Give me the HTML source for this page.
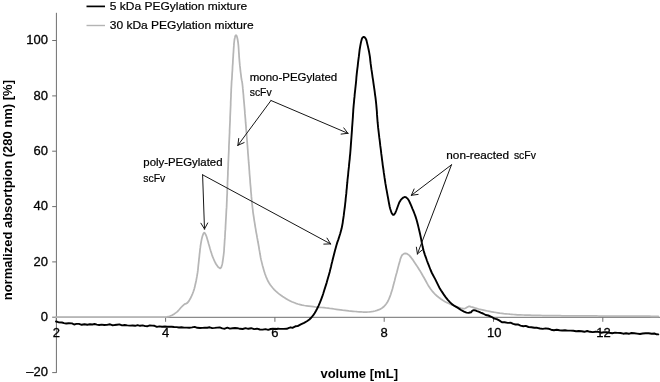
<!DOCTYPE html>
<html><head><meta charset="utf-8"><title>SEC chromatogram</title>
<style>html,body{margin:0;padding:0;background:#fff}svg{display:block}</style></head>
<body>
<svg width="660" height="382" viewBox="0 0 660 382">
<rect width="660" height="382" fill="#fff"/>
<g stroke="#6e6e6e" stroke-width="1" fill="none">
<line x1="56.4" y1="12.8" x2="56.4" y2="372.9"/>
<line x1="56" y1="317.3" x2="660" y2="317.3"/>
<line x1="52.2" y1="40.5" x2="56.4" y2="40.5"/>
<line x1="52.2" y1="95.9" x2="56.4" y2="95.9"/>
<line x1="52.2" y1="151.2" x2="56.4" y2="151.2"/>
<line x1="52.2" y1="206.6" x2="56.4" y2="206.6"/>
<line x1="52.2" y1="261.9" x2="56.4" y2="261.9"/>
<line x1="52.2" y1="317.2" x2="56.4" y2="317.2"/>
<line x1="52.2" y1="372.6" x2="56.4" y2="372.6"/>
<line x1="56.3" y1="317.3" x2="56.3" y2="321.8"/>
<line x1="165.6" y1="317.3" x2="165.6" y2="321.8"/>
<line x1="274.9" y1="317.3" x2="274.9" y2="321.8"/>
<line x1="384.2" y1="317.3" x2="384.2" y2="321.8"/>
<line x1="493.5" y1="317.3" x2="493.5" y2="321.8"/>
<line x1="602.8" y1="317.3" x2="602.8" y2="321.8"/>
</g>
<g font-family="'Liberation Sans', Arial, sans-serif" font-size="13" fill="#000" stroke="#000" stroke-width="0.3">
<text x="47.9" y="44.3" text-anchor="end">100</text>
<text x="47.9" y="99.7" text-anchor="end">80</text>
<text x="47.9" y="155.0" text-anchor="end">60</text>
<text x="47.9" y="210.4" text-anchor="end">40</text>
<text x="47.9" y="265.7" text-anchor="end">20</text>
<text x="47.9" y="321.1" text-anchor="end">0</text>
<text x="47.9" y="376.4" text-anchor="end">–20</text>
<text x="56.3" y="336.8" text-anchor="middle">2</text>
<text x="165.6" y="336.8" text-anchor="middle">4</text>
<text x="274.9" y="336.8" text-anchor="middle">6</text>
<text x="384.2" y="336.8" text-anchor="middle">8</text>
<text x="494.3" y="336.8" text-anchor="middle">10</text>
<text x="603.6" y="336.8" text-anchor="middle">12</text>
</g>
<path d="M56.0 317.0 L57.1 317.0 L58.4 317.0 L59.8 317.0 L61.4 317.0 L63.1 317.0 L64.9 317.0 L66.9 317.0 L68.9 317.0 L71.1 317.0 L73.3 317.0 L75.5 317.0 L77.8 317.0 L80.1 317.0 L82.4 317.0 L84.8 317.0 L87.1 317.0 L89.4 317.0 L91.6 317.0 L93.9 317.0 L96.0 317.0 L98.0 317.0 L100.0 317.0 L102.1 317.0 L104.3 317.0 L106.4 317.0 L108.6 317.0 L110.8 317.0 L112.9 317.0 L115.1 317.0 L117.2 317.0 L119.4 317.0 L121.5 317.0 L123.6 317.0 L125.6 317.0 L127.6 317.0 L129.6 317.0 L131.5 317.0 L133.3 317.0 L135.1 317.0 L136.8 317.0 L138.5 317.0 L140.0 317.0 L142.9 317.0 L145.5 317.0 L147.9 317.0 L150.1 317.0 L152.1 317.0 L153.9 317.0 L155.6 317.0 L157.2 317.0 L158.6 317.0 L160.0 317.0 L163.4 317.0 L165.3 317.0 L167.0 316.8 L169.6 316.3 L172.0 315.3 L173.8 314.2 L175.7 312.9 L177.4 311.6 L179.3 309.5 L181.0 307.5 L182.9 305.6 L184.6 304.1 L186.0 303.6 L187.4 302.9 L189.0 300.9 L190.6 298.0 L191.5 296.2 L192.4 294.1 L193.3 291.8 L194.2 289.1 L194.7 287.3 L195.1 285.3 L195.6 283.2 L196.1 281.0 L196.5 278.8 L196.9 276.7 L197.2 274.8 L197.6 272.4 L197.9 270.2 L198.1 268.1 L198.3 265.8 L198.6 263.2 L198.8 261.3 L199.0 259.1 L199.3 256.8 L199.5 254.4 L199.8 252.1 L200.0 249.8 L200.3 247.7 L200.5 245.9 L200.9 243.3 L201.3 241.1 L201.7 239.1 L202.1 237.4 L202.5 236.0 L203.4 233.6 L204.2 232.7 L205.0 233.3 L205.9 235.0 L206.6 236.8 L207.6 240.2 L208.1 241.8 L208.6 243.8 L209.3 246.0 L209.9 248.3 L210.6 250.6 L211.3 252.7 L211.9 254.6 L212.7 256.9 L213.6 259.0 L214.4 260.8 L215.2 262.5 L216.0 264.0 L218.1 267.0 L220.0 268.4 L221.2 267.6 L222.0 265.0 L222.4 263.4 L222.7 261.5 L223.0 259.3 L223.3 257.1 L223.6 255.0 L223.8 253.2 L224.0 251.5 L224.1 249.7 L224.2 247.6 L224.4 245.0 L224.5 243.4 L224.6 241.7 L224.7 239.8 L224.9 237.9 L225.0 235.8 L225.1 233.7 L225.2 231.5 L225.4 229.4 L225.5 227.2 L225.6 225.0 L225.7 223.1 L225.8 221.3 L225.9 219.5 L226.0 217.7 L226.1 215.8 L226.2 213.9 L226.3 211.9 L226.4 209.7 L226.6 207.4 L226.7 204.8 L226.8 202.0 L226.9 200.4 L226.9 198.7 L227.0 196.9 L227.1 195.1 L227.2 193.2 L227.2 191.2 L227.3 189.2 L227.4 187.1 L227.5 185.0 L227.5 182.9 L227.6 180.7 L227.7 178.6 L227.8 176.4 L227.9 174.2 L227.9 172.1 L228.0 170.0 L228.1 167.9 L228.2 165.8 L228.2 163.8 L228.3 161.9 L228.4 160.0 L228.5 157.7 L228.6 155.5 L228.7 153.3 L228.8 151.2 L228.9 149.0 L228.9 146.9 L229.0 144.8 L229.1 142.8 L229.2 140.7 L229.3 138.7 L229.4 136.6 L229.5 134.6 L229.6 132.5 L229.6 130.5 L229.7 128.4 L229.8 126.3 L229.9 124.2 L230.0 122.2 L230.1 120.1 L230.1 117.9 L230.2 115.7 L230.3 113.5 L230.4 111.2 L230.5 109.0 L230.6 106.8 L230.7 104.6 L230.7 102.4 L230.8 100.3 L230.9 98.2 L231.0 96.2 L231.0 94.4 L231.1 92.6 L231.2 90.9 L231.2 89.4 L231.3 88.0 L231.5 84.3 L231.6 82.0 L231.7 80.5 L231.9 79.1 L232.0 77.0 L232.1 75.0 L232.2 72.8 L232.4 70.5 L232.5 68.2 L232.6 65.8 L232.8 63.6 L232.9 61.4 L233.0 59.0 L233.2 56.5 L233.3 54.1 L233.5 51.8 L233.6 49.8 L233.7 48.0 L233.9 45.4 L234.0 43.5 L234.2 42.0 L234.4 40.0 L234.7 38.5 L235.0 37.2 L235.2 36.2 L235.6 35.5 L236.0 35.2 L236.4 35.5 L236.8 36.2 L237.1 37.2 L237.4 38.5 L237.7 40.0 L238.0 42.0 L238.2 43.5 L238.4 45.4 L238.6 48.0 L238.7 49.8 L238.8 51.8 L239.0 54.1 L239.1 56.5 L239.3 58.9 L239.5 61.4 L239.7 63.6 L239.9 65.9 L240.2 68.3 L240.4 70.7 L240.7 73.0 L241.0 75.1 L241.2 77.1 L241.5 79.0 L241.7 80.2 L242.0 81.4 L242.3 83.4 L242.7 87.0 L242.8 88.4 L243.0 90.0 L243.1 91.7 L243.3 93.5 L243.5 95.5 L243.6 97.5 L243.8 99.7 L244.0 101.9 L244.2 104.2 L244.4 106.5 L244.6 108.8 L244.8 111.1 L244.9 113.4 L245.1 115.7 L245.3 117.9 L245.5 120.1 L245.6 122.2 L245.8 124.2 L246.0 126.3 L246.1 128.4 L246.3 130.4 L246.4 132.4 L246.6 134.4 L246.7 136.3 L246.9 138.2 L247.0 140.1 L247.2 142.0 L247.3 144.0 L247.5 146.0 L247.6 148.0 L247.8 150.2 L247.9 152.3 L248.1 154.6 L248.3 157.0 L248.4 158.8 L248.6 160.7 L248.7 162.7 L248.9 164.7 L249.1 166.8 L249.2 169.0 L249.4 171.2 L249.5 173.4 L249.7 175.6 L249.9 177.9 L250.1 180.1 L250.2 182.3 L250.4 184.6 L250.6 186.7 L250.8 188.9 L250.9 191.0 L251.1 193.0 L251.3 195.0 L251.4 196.9 L251.6 198.7 L251.7 200.4 L251.9 202.0 L252.2 204.9 L252.5 207.6 L252.8 209.9 L253.0 212.1 L253.3 214.1 L253.6 216.0 L253.9 217.8 L254.1 219.5 L254.4 221.3 L254.7 223.1 L255.0 225.0 L255.3 227.1 L255.7 229.2 L256.0 231.3 L256.4 233.4 L256.8 235.4 L257.1 237.4 L257.5 239.4 L257.8 241.3 L258.2 243.2 L258.5 245.0 L258.9 247.2 L259.2 249.4 L259.6 251.4 L259.9 253.5 L260.3 255.5 L260.6 257.4 L261.0 259.4 L261.5 261.4 L262.0 263.4 L262.5 265.5 L263.1 267.6 L263.7 269.7 L264.3 271.7 L264.9 273.6 L265.6 275.5 L266.2 277.1 L267.2 279.4 L268.1 281.3 L269.1 283.0 L270.2 284.7 L271.4 286.3 L272.8 288.0 L274.2 289.6 L275.8 291.1 L277.5 292.6 L279.3 294.1 L280.9 295.3 L282.6 296.5 L284.3 297.6 L286.1 298.7 L287.9 299.8 L289.7 300.7 L291.8 301.7 L293.8 302.5 L295.8 303.3 L297.9 304.0 L300.2 304.6 L302.2 305.1 L304.4 305.5 L306.6 305.8 L308.8 306.1 L311.1 306.4 L313.3 306.7 L315.4 307.0 L317.5 307.2 L319.5 307.3 L321.7 307.5 L323.9 307.7 L326.4 308.0 L328.2 308.2 L330.1 308.5 L332.1 308.7 L334.1 309.0 L336.2 309.3 L338.3 309.6 L340.5 309.9 L342.5 310.2 L344.6 310.4 L346.7 310.6 L348.8 310.9 L350.9 311.1 L353.0 311.3 L355.1 311.5 L357.2 311.7 L359.2 311.8 L361.0 311.9 L362.8 312.0 L365.2 312.0 L367.4 312.0 L369.5 311.9 L371.4 311.7 L373.2 311.4 L375.0 311.0 L377.0 310.4 L379.0 309.7 L380.8 308.9 L382.4 307.8 L384.0 306.5 L385.2 305.2 L386.3 303.8 L387.3 302.2 L388.3 300.5 L389.2 298.4 L390.2 295.9 L390.8 294.3 L391.3 292.6 L391.9 290.7 L392.5 288.7 L393.0 286.7 L393.6 284.6 L394.1 282.5 L394.7 280.4 L395.2 278.3 L395.7 276.4 L396.2 274.6 L396.9 272.2 L397.5 269.8 L398.1 267.4 L398.7 265.1 L399.3 263.0 L399.9 261.0 L400.3 259.3 L400.8 257.9 L402.0 255.2 L403.0 254.4 L404.1 253.6 L405.3 253.3 L406.6 253.6 L408.0 254.4 L409.3 255.4 L411.4 257.9 L412.3 259.1 L413.3 260.6 L414.4 262.2 L415.6 264.0 L416.9 265.9 L418.1 267.8 L419.3 269.8 L420.5 271.6 L421.6 273.5 L422.7 275.5 L423.9 277.5 L425.0 279.5 L426.1 281.5 L427.1 283.4 L428.1 285.2 L429.1 286.7 L430.8 289.2 L432.2 291.1 L433.6 292.7 L435.2 294.3 L437.0 296.0 L438.9 297.5 L440.9 299.0 L442.8 300.3 L444.7 301.4 L446.6 302.4 L448.4 303.3 L450.3 304.1 L452.3 305.0 L454.2 305.8 L456.2 306.6 L457.9 307.2 L460.8 308.1 L463.0 308.6 L464.4 308.6 L465.5 308.2 L467.1 307.2 L468.6 306.4 L469.8 306.4 L471.0 306.8 L472.4 307.2 L474.6 307.9 L476.4 308.4 L478.6 309.0 L481.1 309.6 L483.7 310.2 L485.6 310.6 L487.5 311.0 L489.6 311.4 L491.7 311.8 L493.8 312.2 L495.9 312.5 L497.9 312.8 L499.8 313.1 L501.8 313.3 L503.7 313.6 L505.8 313.8 L508.0 314.0 L509.9 314.2 L511.6 314.3 L513.4 314.5 L515.3 314.6 L517.5 314.8 L520.1 314.9 L523.3 315.0 L524.9 315.1 L526.5 315.1 L528.2 315.2 L530.0 315.2 L531.8 315.3 L533.8 315.3 L535.8 315.3 L537.8 315.4 L540.0 315.4 L542.2 315.5 L544.4 315.5 L546.8 315.6 L549.2 315.6 L551.6 315.6 L554.1 315.7 L556.7 315.7 L558.4 315.7 L560.1 315.7 L561.9 315.8 L563.7 315.8 L565.6 315.8 L567.5 315.8 L569.5 315.8 L571.4 315.8 L573.4 315.8 L575.4 315.8 L577.5 315.9 L579.5 315.9 L581.6 315.9 L583.7 315.9 L585.8 315.9 L587.9 315.9 L590.0 315.9 L592.1 315.9 L594.2 315.9 L596.3 315.9 L598.4 316.0 L600.5 316.0 L602.6 316.0 L604.7 316.0 L606.7 316.0 L608.8 316.0 L610.9 316.0 L613.1 316.0 L615.4 316.1 L617.7 316.1 L620.1 316.1 L622.5 316.1 L624.9 316.1 L627.3 316.1 L629.7 316.1 L632.1 316.1 L634.5 316.2 L636.8 316.2 L639.1 316.2 L641.3 316.2 L643.5 316.2 L645.5 316.2 L647.6 316.2 L649.5 316.2 L651.3 316.3 L652.9 316.3 L654.5 316.3 L655.9 316.3 L657.2 316.3 L658.3 316.3" fill="none" stroke="#b6b6b6" stroke-width="1.75" stroke-linejoin="round" stroke-linecap="round"/>
<path d="M56.0 321.5 L58.4 322.2 L62.0 322.5 L64.0 323.1 L66.2 323.5 L68.8 323.2 L72.0 323.4 L74.1 324.5 L76.5 323.9 L79.0 323.9 L81.7 324.8 L84.5 324.2 L87.3 324.7 L90.0 324.3 L92.3 324.5 L94.6 324.0 L96.9 324.6 L99.2 325.0 L101.7 324.6 L104.2 325.0 L107.0 324.9 L110.0 324.3 L112.2 325.2 L114.5 325.0 L116.9 324.7 L119.4 324.4 L122.0 325.4 L124.7 325.0 L127.3 325.4 L130.0 325.6 L132.6 325.5 L135.2 325.8 L137.6 325.2 L140.0 325.8 L142.7 325.4 L145.2 326.1 L147.6 326.2 L149.9 325.4 L152.2 325.6 L154.5 325.8 L156.9 326.9 L159.4 326.4 L162.1 326.7 L165.0 326.5 L167.2 326.8 L169.4 326.7 L171.7 326.7 L174.1 327.0 L176.6 327.1 L179.0 327.5 L181.6 327.3 L184.1 327.6 L186.7 327.6 L189.3 327.8 L192.0 327.4 L194.7 326.9 L197.3 327.8 L200.0 328.0 L202.4 327.9 L204.8 327.6 L207.2 327.8 L209.7 327.3 L212.2 328.1 L214.7 327.9 L217.2 327.6 L219.7 327.4 L222.3 328.4 L224.8 328.7 L227.4 327.7 L229.9 328.6 L232.5 328.2 L235.0 328.0 L237.5 328.2 L240.0 328.8 L242.7 329.0 L245.5 328.1 L248.3 328.8 L251.2 328.2 L254.1 329.1 L257.0 328.7 L259.9 329.5 L262.7 329.6 L265.5 329.1 L268.2 329.8 L270.7 329.0 L273.1 328.7 L275.4 329.4 L277.4 328.7 L279.3 328.8 L283.7 328.9 L286.8 328.8 L289.0 327.8 L290.7 327.3 L292.4 327.8 L295.4 326.3 L297.6 326.1 L300.8 324.3 L304.1 322.9 L306.9 321.3 L309.4 319.5 L311.4 317.5 L313.3 315.1 L314.6 313.2 L315.9 311.0 L317.2 308.5 L318.5 305.8 L319.9 302.7 L321.2 299.4 L322.2 296.7 L323.2 293.7 L324.1 290.7 L325.1 287.6 L325.9 285.1 L326.7 282.6 L327.4 280.0 L328.2 277.3 L329.0 274.5 L329.7 272.0 L330.3 269.4 L331.0 266.7 L331.6 263.9 L332.3 261.3 L332.9 258.8 L333.6 256.0 L334.3 253.2 L335.0 250.5 L335.7 248.0 L336.3 245.7 L337.3 242.4 L338.3 239.6 L339.3 236.5 L340.1 234.0 L340.8 231.5 L341.6 228.6 L342.3 225.0 L342.7 222.8 L343.0 220.4 L343.4 217.9 L343.8 215.2 L344.1 212.3 L344.5 209.4 L344.9 206.5 L345.2 203.5 L345.5 201.1 L345.7 198.6 L346.0 196.0 L346.3 193.4 L346.5 190.7 L346.8 188.1 L347.0 185.4 L347.3 182.7 L347.5 180.0 L347.8 177.4 L348.1 174.8 L348.3 172.2 L348.6 169.5 L348.9 166.9 L349.1 164.3 L349.4 161.7 L349.7 159.1 L349.9 156.4 L350.2 153.8 L350.4 151.2 L350.6 148.6 L350.8 145.9 L351.0 143.1 L351.2 140.4 L351.4 137.7 L351.6 135.0 L351.8 132.4 L352.0 129.8 L352.1 127.4 L352.3 125.0 L352.5 122.2 L352.7 119.5 L352.9 116.9 L353.0 114.4 L353.2 111.9 L353.3 109.6 L353.5 107.3 L353.7 105.0 L354.0 102.1 L354.2 99.4 L354.5 96.9 L354.7 94.3 L355.0 91.7 L355.3 88.8 L355.6 86.1 L355.9 83.3 L356.2 80.3 L356.4 77.3 L356.7 74.4 L357.0 71.7 L357.3 69.2 L357.7 66.1 L358.0 63.2 L358.3 60.6 L358.6 58.3 L358.9 56.2 L359.3 52.7 L359.6 50.0 L360.2 46.4 L360.8 43.1 L361.3 40.9 L361.7 39.4 L362.1 38.3 L362.6 37.6 L363.1 37.1 L363.7 36.9 L364.3 37.1 L364.9 37.6 L365.5 38.3 L366.1 39.4 L366.6 40.9 L367.1 43.1 L367.9 46.4 L368.7 50.0 L369.2 52.7 L369.8 56.2 L370.1 58.3 L370.3 60.6 L370.6 63.2 L371.0 66.1 L371.4 69.2 L371.8 71.7 L372.2 74.4 L372.6 77.3 L373.1 80.3 L373.5 83.3 L373.9 86.1 L374.3 88.8 L374.7 91.7 L375.0 94.3 L375.4 96.9 L375.7 99.4 L376.0 102.1 L376.3 105.0 L376.5 107.3 L376.7 109.6 L376.9 111.9 L377.0 114.4 L377.2 116.9 L377.4 119.5 L377.6 122.2 L377.9 125.0 L378.1 127.4 L378.4 129.8 L378.7 132.4 L379.0 135.0 L379.3 137.7 L379.7 140.4 L380.0 143.1 L380.3 145.9 L380.7 148.6 L381.0 151.2 L381.3 153.9 L381.7 156.6 L382.0 159.3 L382.4 162.1 L382.7 164.8 L383.1 167.5 L383.5 170.1 L383.8 172.7 L384.2 175.1 L384.5 177.4 L385.0 180.5 L385.4 183.4 L385.9 186.1 L386.3 188.6 L386.8 191.1 L387.2 193.4 L387.6 195.7 L388.2 198.8 L388.7 201.7 L389.2 204.3 L389.7 206.7 L390.2 208.8 L391.5 212.8 L392.8 214.8 L394.0 214.8 L395.4 212.7 L396.3 210.5 L397.4 207.5 L398.5 204.5 L399.4 202.2 L400.8 199.9 L402.0 198.7 L403.3 197.6 L404.6 197.0 L405.6 197.1 L406.5 197.8 L407.5 198.5 L408.7 200.2 L409.8 202.5 L411.2 205.6 L412.5 208.8 L413.5 211.1 L414.4 213.5 L415.4 216.1 L416.4 219.2 L417.1 221.7 L417.8 224.4 L418.5 227.4 L419.2 230.3 L419.9 233.3 L420.5 236.0 L421.1 238.9 L421.6 241.6 L422.1 244.3 L422.7 247.1 L423.5 250.3 L424.2 252.6 L425.0 255.1 L426.0 257.8 L426.9 260.5 L427.9 263.2 L428.9 265.7 L429.8 268.0 L430.6 270.0 L431.9 273.0 L433.1 275.2 L434.1 277.1 L435.2 279.1 L436.3 281.4 L437.4 283.7 L438.5 285.9 L439.7 288.2 L441.1 290.5 L442.7 292.9 L444.2 295.2 L445.8 297.3 L447.8 299.8 L449.9 302.1 L451.9 304.1 L454.9 306.2 L457.9 307.9 L461.0 310.0 L464.0 311.7 L466.5 312.6 L468.6 312.9 L469.9 312.5 L471.0 312.3 L472.4 310.7 L473.9 310.2 L475.4 310.4 L477.0 311.2 L478.6 311.7 L480.7 312.6 L483.0 313.5 L485.7 315.0 L488.3 315.5 L491.4 316.8 L494.4 318.6 L496.7 319.1 L499.2 320.4 L501.9 322.2 L504.7 322.3 L507.7 322.9 L511.0 322.8 L513.2 323.8 L515.5 324.5 L517.9 324.4 L520.5 325.6 L523.3 326.2 L525.8 325.9 L528.5 327.0 L531.4 327.2 L534.3 327.8 L537.2 327.8 L540.0 328.5 L542.8 328.9 L545.6 328.4 L548.4 328.7 L551.1 329.7 L553.9 330.3 L556.7 329.7 L559.5 330.2 L562.2 330.5 L565.0 330.3 L567.8 330.6 L570.5 330.6 L573.3 330.8 L576.1 331.2 L578.9 331.0 L581.6 331.2 L584.4 331.8 L587.2 331.0 L590.0 331.8 L592.8 332.1 L595.6 331.8 L598.4 331.9 L601.1 332.7 L603.9 332.2 L606.7 332.3 L609.5 332.8 L612.2 333.2 L615.0 332.6 L617.8 332.9 L620.5 333.0 L623.3 333.7 L626.1 333.3 L628.8 333.8 L631.5 333.0 L634.3 333.2 L637.1 333.6 L640.0 334.0 L642.7 333.5 L645.6 333.3 L648.7 333.3 L651.7 333.8 L654.4 333.5 L656.6 334.3 L658.3 334.4" fill="none" stroke="#000" stroke-width="1.9" stroke-linejoin="round" stroke-linecap="round"/>
<line x1="86.5" y1="6.4" x2="105" y2="6.4" stroke="#000" stroke-width="1.7"/>
<line x1="86.5" y1="25.5" x2="105" y2="25.5" stroke="#b4b4b4" stroke-width="1.4"/>
<g font-family="'Liberation Sans', Arial, sans-serif" font-size="11.6" fill="#000" stroke="#000" stroke-width="0.2">
<text x="109.8" y="9.9" textLength="137.3" lengthAdjust="spacingAndGlyphs">5 kDa PEGylation mixture</text>
<text x="109.8" y="29.05" textLength="143.9" lengthAdjust="spacingAndGlyphs">30 kDa PEGylation mixture</text>
</g>
<g font-family="'Liberation Sans', Arial, sans-serif" font-size="13" font-weight="bold" fill="#000">
<text x="320.4" y="378.2" textLength="77.6" lengthAdjust="spacingAndGlyphs">volume [mL]</text>
<text transform="translate(11.6 300.3) rotate(-90)" textLength="220.3" lengthAdjust="spacingAndGlyphs">normalized absortpion (280 nm) [%]</text>
</g>
<g font-family="'Liberation Sans', Arial, sans-serif" font-size="10.7" fill="#000" stroke="#000" stroke-width="0.2">
<text x="249.7" y="80.8" textLength="87.5" lengthAdjust="spacingAndGlyphs">mono-PEGylated</text>
<text x="249.7" y="96.4" textLength="22" lengthAdjust="spacingAndGlyphs">scFv</text>
<text x="143.3" y="166.4" textLength="79.2" lengthAdjust="spacingAndGlyphs">poly-PEGylated</text>
<text x="143.3" y="181.7" textLength="22" lengthAdjust="spacingAndGlyphs">scFv</text>
<text y="158.8"><tspan x="446.3" textLength="62.8" lengthAdjust="spacingAndGlyphs">non-reacted</tspan> <tspan x="513.9" textLength="22" lengthAdjust="spacingAndGlyphs">scFv</tspan></text>
</g>
<path d="M271.0 100.5 L237.9 145.3 M244.1 142.6 L237.9 145.3 M238.7 138.5 L237.9 145.3 M271.0 100.5 L347.9 133.3 M343.8 127.9 L347.9 133.3 M341.1 134.1 L347.9 133.3 M202.6 174.8 L204.5 229.0 M207.7 223.0 L204.5 229.0 M200.9 223.2 L204.5 229.0 M202.6 174.8 L330.6 243.9 M327.0 238.1 L330.6 243.9 M323.8 244.1 L330.6 243.9 M451.5 164.8 L411.4 195.3 M418.1 194.4 L411.4 195.3 M414.1 189.0 L411.4 195.3 M451.5 164.8 L417.4 253.9 M422.7 249.6 L417.4 253.9 M416.4 247.2 L417.4 253.9" fill="none" stroke="#161616" stroke-width="1.0" stroke-linecap="round" stroke-linejoin="round"/>
</svg>
</body></html>
